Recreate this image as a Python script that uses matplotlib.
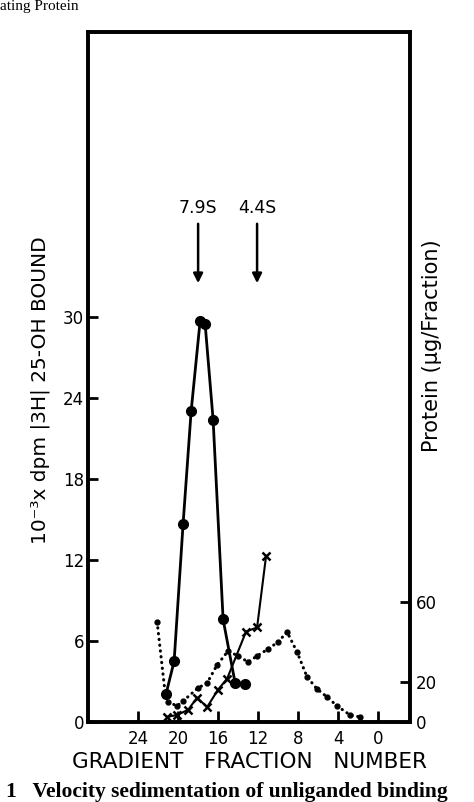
import matplotlib
matplotlib.use("Agg")
import matplotlib.pyplot as plt

# ---- data ----
# bound 3H 25-OH (solid line, large dots), left axis
bound_frac = [21.2, 20.4, 19.5, 18.7, 17.8, 17.3, 16.5, 15.5, 14.3, 13.3]
bound_val = [2.1, 4.5, 14.7, 23.0, 29.7, 29.5, 22.4, 7.6, 2.9, 2.8]

# second binding series (x markers, solid thin line), left axis
x_frac = [21.1, 20.1, 19.0, 18.1, 17.1, 16.0, 15.1, 13.2, 12.1, 11.2]
x_val = [0.37, 0.52, 0.9, 1.8, 1.1, 2.4, 3.2, 6.7, 7.0, 12.3]

# protein (dotted line, small dots), right axis
prot_frac = [22.1, 21.3, 21.0, 20.1, 19.5, 18.0, 17.1, 16.1, 15.0, 14.0, 13.0,
             12.1, 11.0, 10.0, 9.1, 8.1, 7.1, 6.1, 5.1, 4.1, 2.8, 1.8]
prot_val = [50, 14.5, 10, 8, 10.5, 17, 19.5, 28.5, 35.5, 33, 30,
            33, 36.5, 40, 45, 35, 22.5, 16.5, 12.5, 8, 3.5, 2.5]

x_ticks = [24, 20, 16, 12, 8, 4, 0]
left_ticks = [0, 6, 12, 18, 24, 30]
right_ticks = [0, 20, 60]
markers_s = [("7.9S", 18.0), ("4.4S", 12.1)]

FONT = "DejaVu Sans"
plt.rcParams["font.family"] = [FONT]

fig = plt.figure(figsize=(4.74, 8.02), dpi=100)
ax = fig.add_axes([0.186, 0.0998, 0.679, 0.8602])
ax2 = ax.twinx()

ax.set_xlim(29.0, -3.2)
ax.set_ylim(0, 51.1)
ax2.set_ylim(0, 345)

ax.plot(bound_frac, bound_val, "-", color="black", lw=2.0,
        marker="o", ms=7, zorder=4)
ax.plot(x_frac, x_val, "-", color="black", lw=1.5,
        marker="x", ms=6, mew=1.8, zorder=4)
ax2.plot(prot_frac, prot_val, color="black", lw=2.2, linestyle=(0, (0.1, 1.8)),
         dash_capstyle="round", marker="o", ms=3.5, zorder=3)

for lab, fr in markers_s:
    ax.annotate("", xy=(fr, 32.5), xytext=(fr, 36.9),
                arrowprops=dict(arrowstyle="-|>", color="black", lw=1.8,
                                mutation_scale=14, shrinkA=0, shrinkB=0))
    ax.text(fr, 37.4, lab, ha="center", va="bottom", fontsize=12.5,
            color="black")

for a in (ax, ax2):
    for s in a.spines.values():
        s.set_linewidth(2.6)

ax.set_xticks(x_ticks)
ax.set_xticklabels([str(t) for t in x_ticks])
ax.set_yticks(left_ticks)
ax.set_yticklabels([str(t) for t in left_ticks])
ax.tick_params(axis="x", direction="in", length=8, width=2, labelsize=12, pad=6)
ax.tick_params(axis="y", direction="in", length=7, width=2, labelsize=12, pad=3)
ax2.set_yticks(right_ticks)
ax2.set_yticklabels([str(t) for t in right_ticks])
ax2.tick_params(axis="y", direction="in", length=7, width=2, labelsize=12, pad=4)

ax.set_xlabel("GRADIENT   FRACTION   NUMBER", fontsize=15.5, labelpad=3)
ax.set_ylabel("10⁻³x dpm |3H| 25-OH BOUND", fontsize=14.5)
ax.yaxis.set_label_coords(-0.12, 0.481)
ax2.set_ylabel("Protein (µg/Fraction)", fontsize=15)
ax2.yaxis.set_label_coords(1.037, 0.545)

fig.text(0.0, 1.0, "ating Protein", ha="left", va="top",
         fontsize=11, family="Liberation Serif")
fig.text(0.012, 1 - 792 / 802, "1   Velocity sedimentation of unliganded binding",
         ha="left", va="center", fontsize=15.5, family="Liberation Serif",
         weight="bold")

fig.savefig("out.png", dpi=100)
